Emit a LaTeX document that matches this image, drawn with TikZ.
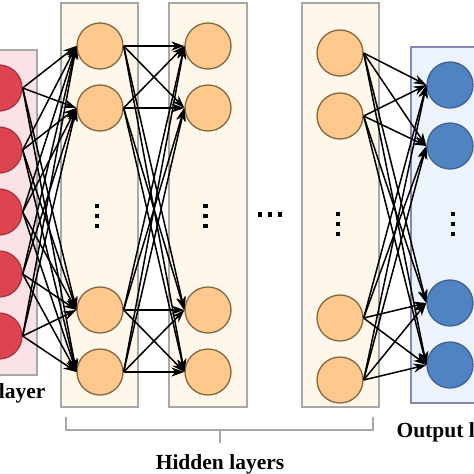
\documentclass[tikz,border=0pt]{standalone}
\usepackage{fontspec}
\setmainfont{Liberation Serif}
\usetikzlibrary{arrows.meta}

\definecolor{inred}{HTML}{DE4450}
\definecolor{inredline}{HTML}{A8343C}
\definecolor{inbox}{HTML}{F8E2E5}
\definecolor{hidorange}{HTML}{FFC88C}
\definecolor{hidline}{HTML}{86663F}
\definecolor{hidbox}{HTML}{FFF8EA}
\definecolor{outblue}{HTML}{4F83C2}
\definecolor{outline}{HTML}{3D6494}
\definecolor{outbox}{HTML}{ECF3FC}
\definecolor{boxgray}{HTML}{A8A8A8}

\begin{document}
\begin{tikzpicture}[
            x=1pt, y=-1pt,
            layerbox/.style={draw=boxgray, line width=1.6pt},
            neuron/.style={circle, minimum size=46pt, inner sep=0pt, line width=1.3pt},
            link/.style={-{Stealth[length=13pt, width=9pt]}, line width=1.5pt},
            label/.style={anchor=base, font=\fontsize{21.5}{24}\selectfont\bfseries}
        ]
        \useasboundingbox (0,0) rectangle (474,474);

        % layer boxes
        \draw[layerbox, fill=inbox] (-30,50) rectangle (37,375);
        \draw[layerbox, fill=hidbox] (61,3) rectangle (138,407);
        \draw[layerbox, fill=hidbox] (169,3) rectangle (247,407);
        \draw[layerbox, fill=hidbox] (302,3) rectangle (379,407);
        \draw[layerbox, draw=boxgray!80!blue, fill=outbox] (411,47) rectangle (500,403);

        % neurons
        \foreach \i/\y in {1/88, 2/150, 3/212, 4/274, 5/336}
            \node[neuron, fill=inred, draw=inredline] (in\i) at (-1,\y) {};
        \foreach \i/\y in {1/46, 2/108, 3/310, 4/372} {
            \node[neuron, fill=hidorange, draw=hidline] (ha\i) at (100,\y) {};
            \node[neuron, fill=hidorange, draw=hidline] (hb\i) at (208,\y) {};
        }
        \foreach \i/\y in {1/53, 2/116, 3/318, 4/380}
            \node[neuron, fill=hidorange, draw=hidline] (hc\i) at (340,\y) {};
        \foreach \i/\y in {1/85, 2/146, 3/303, 4/365}
            \node[neuron, fill=outblue, draw=outline] (out\i) at (450,\y) {};

        % dots
        \foreach \x/\y in {97/206, 205.5/206, 338/214, 453/214}
            \foreach \d in {0, 10, 20}
                \fill (\x-2.3,\y+\d-2.3) rectangle +(4.6,4.6);
        \foreach \x in {260, 270, 280}
            \fill (\x-2.3,212.2) rectangle +(4.6,4.6);

        % connections
        \foreach \a in {1,...,5}
            \foreach \b in {1,...,4}
                \draw[link] (in\a.east) -- (ha\b.west);
        \foreach \a in {1,...,4}
            \foreach \b in {1,...,4} {
                \draw[link] (ha\a.east) -- (hb\b.west);
                \draw[link] (hc\a.east) -- (out\b.west);
            }

        % bracket for hidden layers
        \coordinate (brl) at (66,417);
        \coordinate (brr) at (373,417);
        \coordinate (brm) at (220,430);
        \draw[boxgray, line width=2.2pt] (brl) |- (brr |- brm) -- (brr);
        \draw[boxgray, line width=2.2pt] (brm) -- ++(0,13);

        % labels
        \node[label, anchor=base east] (inlabel) at (49,398) {Input layer};
        \node[label] (hidlabel) at (220,469) {Hidden layers};
        \node[label, anchor=base west] (outlabel) at (393,437) {Output layer};
    \end{tikzpicture}
\end{document}
